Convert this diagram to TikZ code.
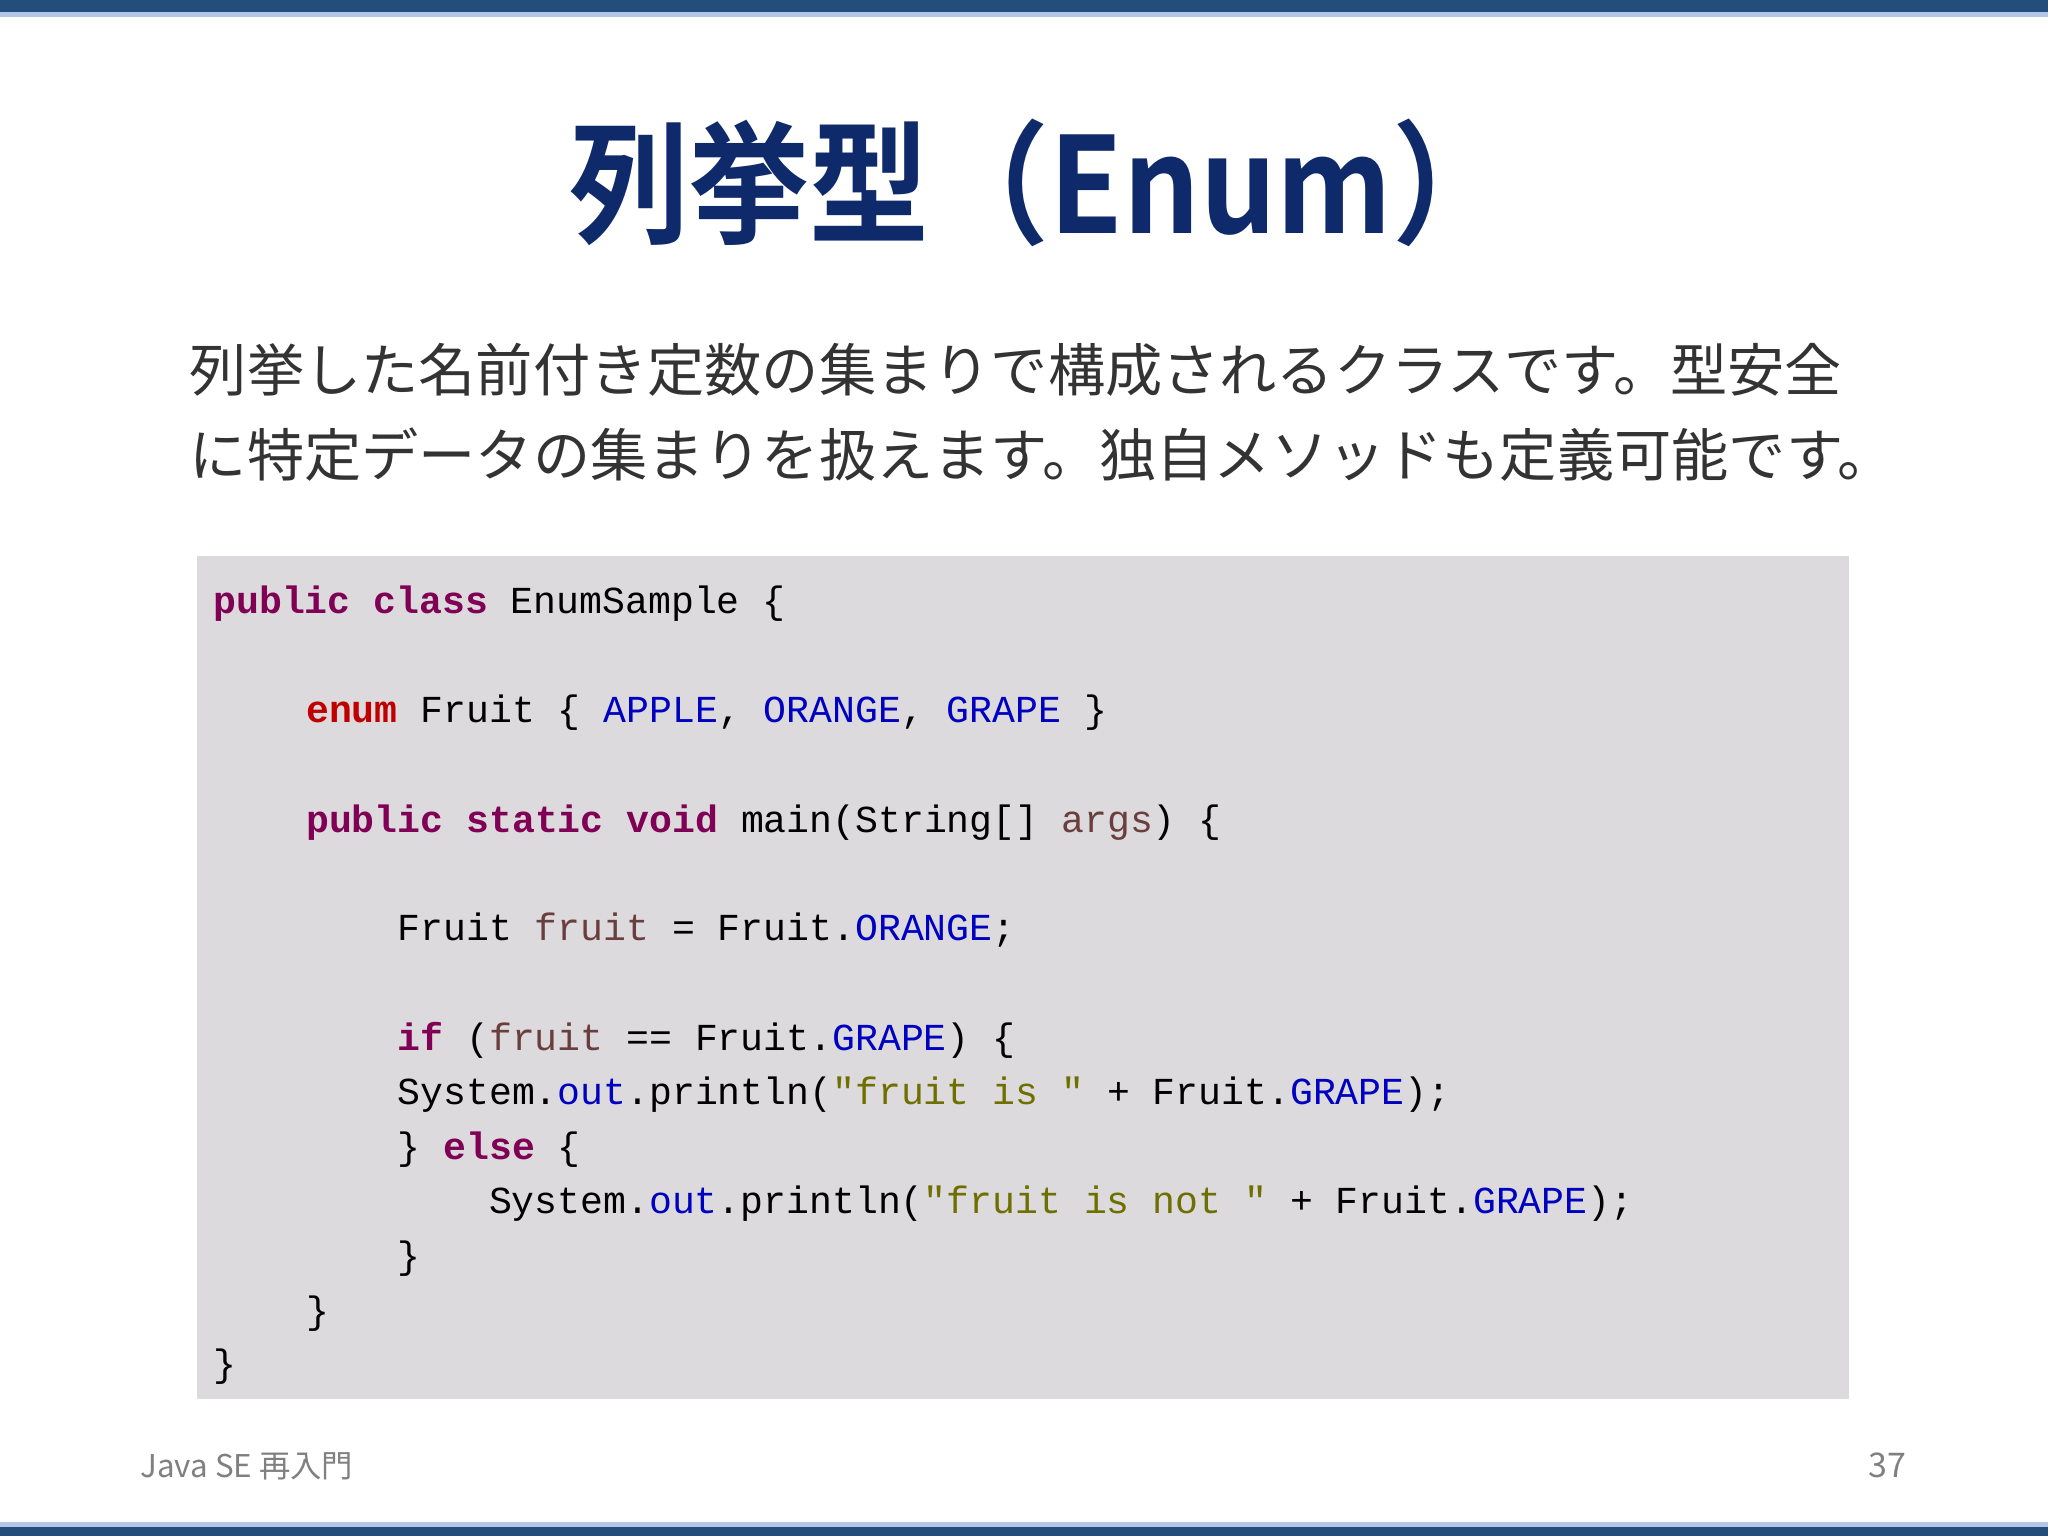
\documentclass[tikz,border=0pt]{standalone}
\usepackage{fontspec}
\setmainfont{Noto Sans CJK JP}
\newfontfamily\cjkb{Noto Sans CJK JP}[BoldFont={* Bold}]
\newfontfamily\codef{Liberation Mono}
\definecolor{barblue}{HTML}{234E7C}
\definecolor{barlight}{HTML}{B4C6E6}
\definecolor{titleblue}{HTML}{0F2A6B}
\definecolor{bodygray}{HTML}{333333}
\definecolor{codebg}{HTML}{DCDADC}
\definecolor{kw}{HTML}{7F0055}
\definecolor{kwred}{HTML}{C00000}
\definecolor{cst}{HTML}{0000C0}
\definecolor{var}{HTML}{6A3E3E}
\definecolor{str}{HTML}{6F6F00}
\newcommand{\K}[1]{\textcolor{kw}{\bfseries #1}}
\newcommand{\C}[1]{\textcolor{cst}{#1}}
\newcommand{\V}[1]{\textcolor{var}{#1}}
\newcommand{\Sx}[1]{\textcolor{str}{#1}}
\begin{document}
\begin{tikzpicture}[x=0.5pt,y=-0.5pt,
  code/.style={anchor=base west,inner sep=0,font=\codef\fontsize{14.6pt}{16pt}\selectfont},
  body/.style={anchor=base west,inner sep=0,text=bodygray,font=\fontsize{21.9pt}{24pt}\selectfont}]
\useasboundingbox (0,0) rectangle (1568,1176);
\fill[white] (0,0) rectangle (1568,1176);
\fill[barblue] (0,0) rectangle (1568,9);
\fill[barlight] (0,9) rectangle (1568,13);
\fill[barblue] (0,1169) rectangle (1568,1176);
\fill[barlight] (0,1165) rectangle (1568,1169);
\node[inner sep=0,text=titleblue,xscale=0.9,font=\cjkb\bfseries\fontsize{51pt}{56pt}\selectfont] (title) at (797,140) {列挙型（Enum）};
\node[body] (l1) at (145,300) {列挙した名前付き定数の集まりで構成されるクラスです。型安全};
\node[body] (l2) at (145,365) {に特定データの集まりを扱えます。独自メソッドも定義可能です。};
\fill[codebg] (151,426) rectangle (1416,1071);
\node[code] (c1) at (163,470) {\K{public}~\K{class}~EnumSample~\{};
\node[code] (c2) at (234,553) {\textcolor{kwred}{\bfseries enum}~Fruit~\{~\C{APPLE},~\C{ORANGE},~\C{GRAPE}~\}};
\node[code] (c3) at (234,637) {\K{public}~\K{static}~\K{void}~main(String[]~\V{args})~\{};
\node[code] (c4) at (304,720) {Fruit~\V{fruit}~=~Fruit.\C{ORANGE};};
\node[code] (c5) at (304,804) {\K{if}~(\V{fruit}~==~Fruit.\C{GRAPE})~\{};
\node[code] (c6) at (304,846) {System.\C{out}.println(\Sx{"fruit~is~"}~+~Fruit.\C{GRAPE});};
\node[code] (c7) at (304,888) {\}~\K{else}~\{};
\node[code] (c8) at (374,929) {System.\C{out}.println(\Sx{"fruit~is~not~"}~+~Fruit.\C{GRAPE});};
\node[code] (c9) at (304,971) {\}};
\node[code] (c10) at (234,1013) {\}};
\node[code] (c11) at (163,1054) {\}};
\node[anchor=base west,inner sep=0,text=gray,font=\fontsize{12pt}{14pt}\selectfont] (foot) at (107,1131) {Java SE 再入門};
\node[anchor=base east,inner sep=0,text=gray,font=\fontsize{13pt}{15pt}\selectfont] (page) at (1460,1131) {37};
\end{tikzpicture}
\end{document}
